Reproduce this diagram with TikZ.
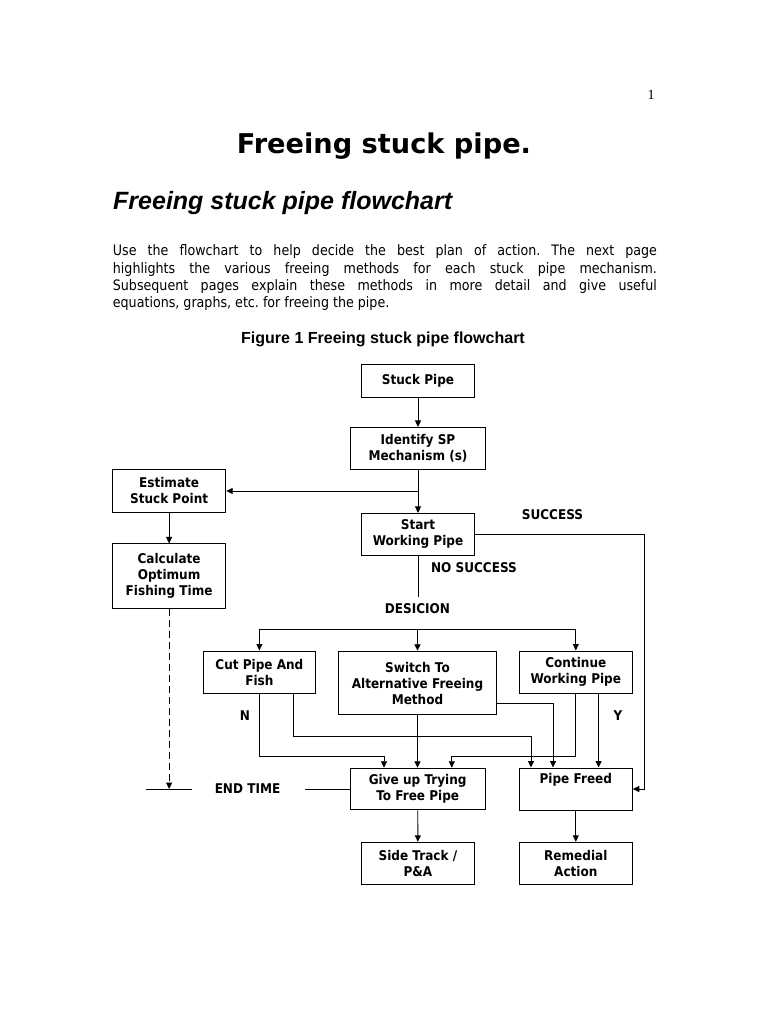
\documentclass[tikz,border=0pt]{standalone}
\usepackage{fontspec}
\usetikzlibrary{arrows.meta}
\newfontfamily\bodyfont{DejaVu Sans}[FakeStretch=0.88]
\newfontfamily\boxfont{DejaVu Sans}[FakeStretch=0.9]
\newfontfamily\titlefont{DejaVu Sans}
\newfontfamily\arialfont{Liberation Sans}
\newfontfamily\pagenumfont{Liberation Serif}
\frenchspacing
\begin{document}
\begin{tikzpicture}[x=1pt,y=-1pt,
  box/.style={draw, line width=1pt, align=center, inner sep=0pt,
    minimum width=113pt, minimum height=42pt,
    font=\boxfont\bfseries\fontsize{13.4}{16}\selectfont},
  lbl/.style={inner sep=0pt, font=\boxfont\bfseries\fontsize{13.4}{16}\selectfont},
  body/.style={anchor=base west, inner sep=0pt, font=\bodyfont\fontsize{14.4}{17.3}\selectfont},
  conn/.style={line width=0.9pt},
  arr/.style={conn, -{Triangle[length=6.5pt,width=6pt]}}]
\useasboundingbox (0,0) rectangle (768,1024);
\fill[white] (0,0) rectangle (768,1024);

% page header texts
\node[anchor=base, inner sep=0pt, font=\pagenumfont\fontsize{14}{16}\selectfont] (pg) at (651,100) {1};
\node[anchor=base, inner sep=0pt, font=\titlefont\bfseries\fontsize{27.2}{31}\selectfont] (title) at (384,153.3) {Freeing stuck pipe.};
\node[anchor=base west, inner sep=0pt, font=\arialfont\bfseries\itshape\fontsize{25}{29}\selectfont] (head) at (113,210) {Freeing stuck pipe flowchart};
\node[body] (l1) at (112.7,255.8) {\makebox[544pt][s]{Use the flowchart to help decide the best plan of action. The next page}};
\node[body] (l2) at (112.7,273) {\makebox[544pt][s]{highlights the various freeing methods for each stuck pipe mechanism.}};
\node[body] (l3) at (112.7,290.2) {\makebox[544pt][s]{Subsequent pages explain these methods in more detail and give useful}};
\node[body] (l4) at (112.7,307.4) {equations, graphs, etc. for freeing the pipe.};
\node[anchor=base, inner sep=0pt, font=\arialfont\bfseries\fontsize{16}{19}\selectfont] (cap) at (383,343) {Figure 1 Freeing stuck pipe flowchart};

% boxes
\node[box, minimum width=112.5pt, minimum height=33pt] (stuck) at (418,380.5) {Stuck Pipe};
\node[box, minimum width=134.6pt, minimum height=42.5pt] (ident) at (418,448.7) {Identify SP\\Mechanism (s)};
\node[box, minimum width=113.2pt, minimum height=42.8pt] (est) at (169.1,490.9) {Estimate\\Stuck Point};
\node[box, minimum width=112.5pt] (start) at (418,534.4) {Start\\Working Pipe};
\node[box, minimum width=113.2pt, minimum height=64.5pt] (calc) at (169.1,576.2) {Calculate\\Optimum\\Fishing Time};
\node[box, minimum width=112.7pt] (cut) at (259.4,672) {Cut Pipe And\\Fish};
\node[box, minimum width=157.8pt, minimum height=63.7pt] (switch) at (417.5,683.1) {Switch To\\Alternative Freeing\\Method};
\node[box] (cont) at (575.8,672) {Continue\\Working Pipe};
\node[box, minimum width=135.4pt, minimum height=41.7pt] (giveup) at (417.7,789.1) {Give up Trying\\To Free Pipe};
\node[box] (freed) at (575.8,789) {Pipe Freed\\\strut};
\node[box] (side) at (417.9,863.3) {Side Track /\\P\&A};
\node[box] (remed) at (575.8,863.3) {Remedial\\Action};

% labels
\node[lbl] (succ) at (552.5,515) {SUCCESS};
\node[lbl] (nosucc) at (474,568) {NO SUCCESS};
\node[lbl] (dec) at (417.5,609) {DESICION};
\node[lbl] (nlab) at (245,716) {N};
\node[lbl] (ylab) at (618,716) {Y};
\node[lbl] (endt) at (247.5,789) {END TIME};

% connectors
\draw[arr] (stuck) -- (ident);
\draw[arr] (ident) -- (start);
\coordinate (j1) at (418,491);
\draw[arr] (j1) -- (j1 -| est.east);
\draw[arr] (est) -- (calc);
\coordinate (et) at (169.1,789);
\draw[arr, dash pattern=on 7pt off 4pt] (calc.south) -- (et);
\coordinate (etl) at (146.4,789);
\coordinate (etr) at (191.8,789);
\draw[conn] (etl) -- (etr);
\coordinate (gl) at (305,789);
\draw[conn] (gl) -- (gl -| giveup.west);
\coordinate (sr) at (644,534.4);
\draw[arr] (start.east) -- (sr) |- (freed.east);
\coordinate (ns) at (418,597.3);
\draw[conn] (start.south) -- (ns);
\coordinate (busl) at (259.4,629.3);
\coordinate (busc) at (417.5,629.3);
\coordinate (busr) at (575.8,629.3);
\draw[conn] (busl) -- (busr);
\draw[arr] (busl) -- (cut.north);
\draw[arr] (busc) -- (switch.north);
\draw[arr] (busr) -- (cont.north);
\coordinate (c1) at (384,756.7);
\draw[arr] (cut.south) |- (c1) -- (c1 |- giveup.north);
\coordinate (c2) at (531,736);
\draw[arr] ([xshift=33.7pt]cut.south) |- (c2) -- (c2 |- freed.north);
\draw[arr] (switch.south) -- (switch.south |- giveup.north);
\coordinate (s1) at (553,703.7);
\draw[arr] (s1 -| switch.east) -- (s1) -- (s1 |- freed.north);
\coordinate (k1) at (451.8,756.7);
\draw[arr] (cont.south) |- (k1) -- (k1 |- giveup.north);
\draw[arr] ([xshift=22.8pt]cont.south) -- ([xshift=22.8pt]freed.north);
\draw[arr] (giveup) -- (side);
\draw[arr] (freed) -- (remed);
\end{tikzpicture}
\end{document}
